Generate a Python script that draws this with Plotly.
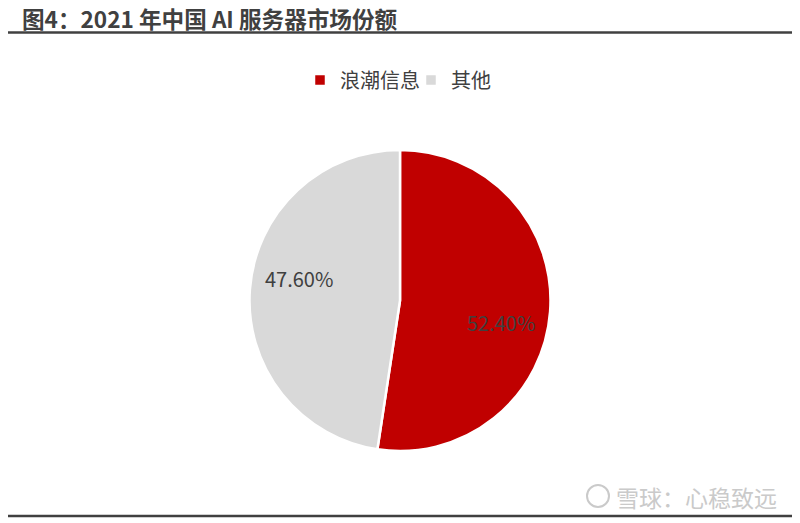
import math
import plotly.graph_objects as go

categories = ["浪潮信息", "其他"]
shares = [52.4, 47.6]
colors = ["#C00000", "#D9D9D9"]
title_text = "图4：2021 年中国 AI 服务器市场份额"
watermark = "雪球：心稳致远"

W, H = 800, 523
FONT = "Noto Sans CJK SC, Microsoft YaHei, sans-serif"

# pie geometry (pixels)
CX, CY, R = 400, 300.5, 150.5
dom_x = [(CX - R) / W, (CX + R) / W]
dom_y = [1 - (CY + R) / H, 1 - (CY - R) / H]

fig = go.Figure(go.Pie(
    labels=categories,
    values=shares,
    marker=dict(colors=colors, line=dict(color="white", width=2.5)),
    sort=False,
    direction="clockwise",
    rotation=0,
    textinfo="none",
    hoverinfo="label+percent",
    domain=dict(x=dom_x, y=dom_y),
))

# data labels placed from the slice angles computed from the values
annotations = []
total = sum(shares)
start = 0.0
for v in shares:
    frac = v / total
    mid = (start + frac / 2) * 360 + 8  # degrees clockwise from 12 o'clock
    start += frac
    rr = 0.69 * R
    px = CX + rr * math.sin(math.radians(mid))
    py = CY - rr * math.cos(math.radians(mid))
    annotations.append(dict(
        text=f"{frac * 100:.2f}%", x=px / W, y=1 - py / H,
        xref="paper", yref="paper", xanchor="center", yanchor="middle",
        showarrow=False, font=dict(family=FONT, size=20, color="#404040")))

annotations += [
    dict(text="<b>" + title_text + "</b>", x=20 / W, y=1 - 18 / H,
         xref="paper", yref="paper", xanchor="left", yanchor="middle",
         showarrow=False, font=dict(family=FONT, size=22.6, color="#404040")),
    dict(text=watermark, x=779 / W, y=1 - 497 / H,
         xref="paper", yref="paper", xanchor="right", yanchor="middle",
         showarrow=False, font=dict(family=FONT, size=23, color="#CACACA")),
]

fig.update_layout(
    width=W, height=H,
    margin=dict(l=0, r=0, t=0, b=0),
    paper_bgcolor="white",
    plot_bgcolor="white",
    font=dict(family=FONT, color="#404040"),
    showlegend=True,
    legend=dict(
        orientation="h",
        x=411 / W, xanchor="center",
        y=1 - 80 / H, yanchor="middle",
        font=dict(family=FONT, size=20, color="#404040"),
        itemwidth=30,
        entrywidth=66,
        traceorder="normal",
    ),
    annotations=annotations,
    shapes=[
        dict(type="line", xref="paper", yref="paper", x0=8 / W, x1=792 / W,
             y0=1 - 32.5 / H, y1=1 - 32.5 / H, line=dict(color="#404040", width=2.5)),
        dict(type="line", xref="paper", yref="paper", x0=8 / W, x1=792 / W,
             y0=1 - 516 / H, y1=1 - 516 / H, line=dict(color="#404040", width=2.5)),
        dict(type="circle", xref="paper", yref="paper",
             x0=587 / W, x1=609 / W, y0=1 - 507 / H, y1=1 - 485 / H,
             line=dict(color="#CACACA", width=2)),
    ],
)

fig.write_html("out.html", post_script="document.body.style.margin='0';",
               config={"displayModeBar": False})
